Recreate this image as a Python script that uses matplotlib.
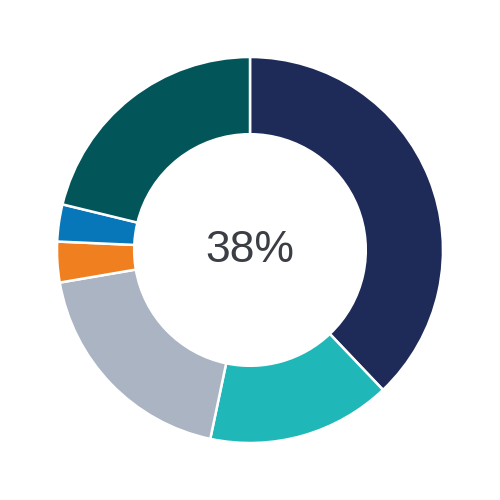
import matplotlib
matplotlib.use("Agg")
import matplotlib.pyplot as plt

labels = ["Navy", "Teal", "Gray", "Orange", "Blue", "Green"]
values = [37.9, 15.4, 19.0, 3.4, 3.1, 21.2]
colors = ["#1e2b58", "#1fb7b8", "#aab4c3", "#f07f1f", "#0877ba", "#02565a"]
center_text = "38%"

fig = plt.figure(figsize=(5, 5), dpi=100)
ax = fig.add_axes([0, 0, 1, 1])
ax.pie(values, colors=colors, startangle=90, counterclock=False, radius=1.0,
       wedgeprops=dict(width=0.4, edgecolor="white", linewidth=1.8))
lim = 250 / 193
ax.set_xlim(-lim, lim)
ax.set_ylim(-lim, lim)
ax.set_aspect("equal")
ax.axis("off")
ax.text(0, 0.0, center_text, ha="center", va="center", fontsize=32,
        color="#3b3e44", family="Liberation Sans")
fig.savefig("out.png", dpi=100)
